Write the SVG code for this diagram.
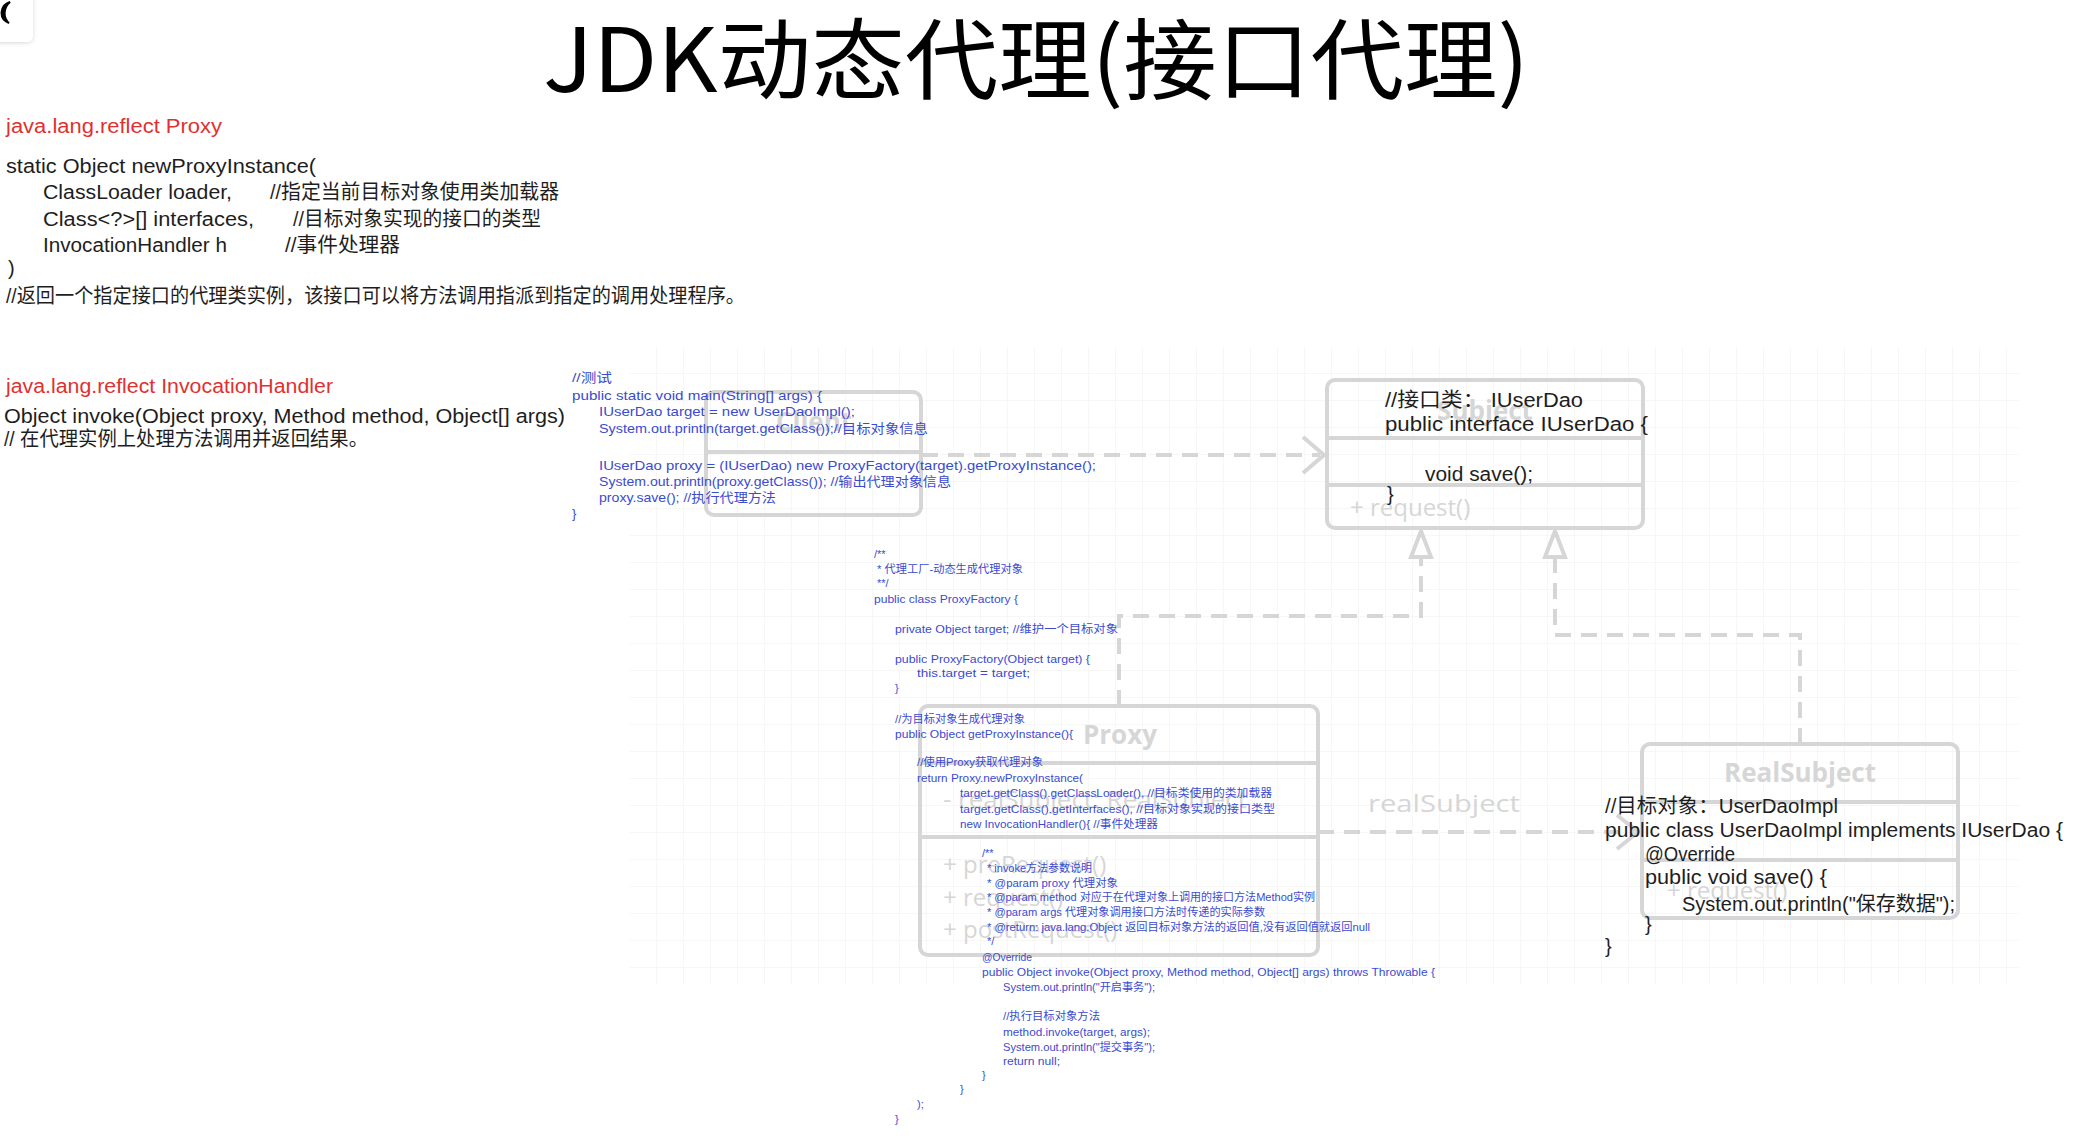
<svg xmlns="http://www.w3.org/2000/svg" width="2076" height="1143" viewBox="0 0 2076 1143">
<defs>
<pattern id="grid" x="630" y="347" width="27" height="27" patternUnits="userSpaceOnUse">
<path d="M27,0 V27 M0,27 H27" fill="none" stroke="#efefef" stroke-width="1"/>
</pattern>
<filter id="shadow" x="-50%" y="-50%" width="200%" height="200%">
<feDropShadow dx="0" dy="1" stdDeviation="2" flood-color="#000000" flood-opacity="0.15"/>
</filter>
<style>
.t{font-family:"Liberation Sans","Noto Sans CJK SC",sans-serif;font-size:20px;fill:#1e1e1e}
.r{fill:#e03131}
.b{font-family:"Liberation Sans","Noto Sans CJK SC",sans-serif;fill:#3b4bd0}
.b13{font-size:13px}
.b11{font-size:11px}
.box{fill:none;stroke:#d6d6d6;stroke-width:4}
.div{stroke:#d6d6d6;stroke-width:4}
.gh{font-family:"Open Sans","Liberation Sans",sans-serif;fill:#d6d6d6;font-size:24px}
.ghb{font-family:"Open Sans","Liberation Sans",sans-serif;fill:#d6d6d6;font-size:26px;font-weight:bold}
.dash{fill:none;stroke:#d6d6d6;stroke-width:4;stroke-dasharray:16 10}
.head{fill:none;stroke:#d6d6d6;stroke-width:4;stroke-linejoin:miter}
.tri{fill:#ffffff;stroke:#d6d6d6;stroke-width:4;stroke-linejoin:miter}
</style>
</defs>
<rect width="2076" height="1143" fill="#ffffff"/>
<rect x="630" y="347" width="1389" height="638" fill="url(#grid)"/>

<g id="corner-card">
<rect x="-10" y="-10" width="43" height="52" rx="6" fill="#ffffff" filter="url(#shadow)"/>
<path d="M10,2 C0,5 -2,19 9,23 C3,18 3,8 10,2 Z" fill="#000000" stroke="#000000" stroke-width="2"/>
</g>

<g id="title">
<text x="543" y="92" font-family="'Noto Sans CJK SC',sans-serif" font-size="88" fill="#000000" textLength="986" lengthAdjust="spacingAndGlyphs">JDK动态代理(接口代理)</text>
</g>

<g id="proxy-api">
<text class="t r" x="6" y="133" textLength="216" lengthAdjust="spacingAndGlyphs">java.lang.reflect Proxy</text>
<text class="t" x="6" y="173" textLength="310" lengthAdjust="spacingAndGlyphs">static Object newProxyInstance(</text>
<text class="t" x="43" y="199" textLength="189" lengthAdjust="spacingAndGlyphs">ClassLoader loader,</text>
<text class="t" x="270" y="199" textLength="289" lengthAdjust="spacingAndGlyphs">//指定当前目标对象使用类加载器</text>
<text class="t" x="43" y="226" textLength="211" lengthAdjust="spacingAndGlyphs">Class&lt;?&gt;[] interfaces,</text>
<text class="t" x="293" y="226" textLength="248" lengthAdjust="spacingAndGlyphs">//目标对象实现的接口的类型</text>
<text class="t" x="43" y="252" textLength="184" lengthAdjust="spacingAndGlyphs">InvocationHandler h</text>
<text class="t" x="285" y="252" textLength="115" lengthAdjust="spacingAndGlyphs">//事件处理器</text>
<text class="t" x="8" y="275">)</text>
<text class="t" x="6" y="303" textLength="739" lengthAdjust="spacingAndGlyphs">//返回一个指定接口的代理类实例，该接口可以将方法调用指派到指定的调用处理程序。</text>
</g>

<g id="invocationhandler-api">
<text class="t r" x="6" y="393" textLength="327" lengthAdjust="spacingAndGlyphs">java.lang.reflect InvocationHandler</text>
<text class="t" x="4" y="423" textLength="561" lengthAdjust="spacingAndGlyphs">Object invoke(Object proxy, Method method, Object[] args)</text>
<text class="t" x="4" y="446" textLength="364" lengthAdjust="spacingAndGlyphs">// 在代理实例上处理方法调用并返回结果。</text>
</g>

<g id="connectors">
<path class="dash" d="M922,455 H1320"/>
<path class="head" d="M1303,437 L1324,455 L1303,473"/>
<path class="dash" d="M1119,706 V616 H1421 V557"/>
<path class="tri" d="M1421,531 L1431,557 L1411,557 Z"/>
<path class="dash" d="M1800,744 V635 H1555 V557"/>
<path class="tri" d="M1555,531 L1565,557 L1545,557 Z"/>
<path class="dash" d="M1318,832 H1634"/>
<path class="head" d="M1617,815 L1638,832 L1617,849"/>
<text class="gh" x="1368" y="812" font-size="29" textLength="152" lengthAdjust="spacingAndGlyphs">realSubject</text>
</g>

<g id="client">
<rect class="box" x="706" y="392" width="215" height="123" rx="8"/>
<line class="div" x1="706" y1="452" x2="921" y2="452"/>
<text class="ghb" x="814" y="431" text-anchor="middle">Client</text>
</g>

<g id="subject">
<rect class="box" x="1327" y="380" width="316" height="148" rx="8"/>
<line class="div" x1="1327" y1="438" x2="1643" y2="438"/>
<line class="div" x1="1327" y1="485" x2="1643" y2="485"/>
<text class="ghb" x="1485" y="420" text-anchor="middle">Subject</text>
<text class="gh" x="1350" y="516">+ request()</text>
</g>

<g id="proxy">
<rect class="box" x="920" y="706" width="398" height="249" rx="8"/>
<line class="div" x1="920" y1="763" x2="1318" y2="763"/>
<line class="div" x1="920" y1="837" x2="1318" y2="837"/>
<text class="ghb" x="1120" y="744" text-anchor="middle">Proxy</text>
<text class="gh" x="943" y="808" textLength="304" lengthAdjust="spacingAndGlyphs">- realSubject: RealSubject</text>
<text class="gh" x="943" y="873">+ preRequest()</text>
<text class="gh" x="943" y="906">+ request()</text>
<text class="gh" x="943" y="938">+ postRequest()</text>
</g>

<g id="realsubject">
<rect class="box" x="1642" y="744" width="316" height="174" rx="8"/>
<line class="div" x1="1642" y1="802" x2="1958" y2="802"/>
<line class="div" x1="1642" y1="860" x2="1958" y2="860"/>
<text class="ghb" x="1800" y="782" text-anchor="middle">RealSubject</text>
<text class="gh" x="1667" y="899">+ request()</text>
</g>

<g id="interface-code">
<text class="t" x="1385" y="407" textLength="198" lengthAdjust="spacingAndGlyphs">//接口类：  IUserDao</text>
<text class="t" x="1385" y="431" textLength="263" lengthAdjust="spacingAndGlyphs">public interface IUserDao {</text>
<text class="t" x="1425" y="481" textLength="108" lengthAdjust="spacingAndGlyphs">void save();</text>
<text class="t" x="1387" y="501">}</text>
</g>

<g id="impl-code">
<text class="t" x="1605" y="813" textLength="233" lengthAdjust="spacingAndGlyphs">//目标对象：UserDaoImpl</text>
<text class="t" x="1605" y="837" textLength="458" lengthAdjust="spacingAndGlyphs">public class UserDaoImpl implements IUserDao {</text>
<text class="t" x="1645" y="861" textLength="90" lengthAdjust="spacingAndGlyphs">@Override</text>
<text class="t" x="1645" y="884" textLength="182" lengthAdjust="spacingAndGlyphs">public void save() {</text>
<text class="t" x="1682" y="911" textLength="273" lengthAdjust="spacingAndGlyphs">System.out.println("保存数据");</text>
<text class="t" x="1645" y="931">}</text>
<text class="t" x="1605" y="953">}</text>
</g>

<g id="test-code" class="b b13">
<text x="572" y="382" textLength="40" lengthAdjust="spacingAndGlyphs">//测试</text>
<text x="572" y="400" textLength="250" lengthAdjust="spacingAndGlyphs">public static void main(String[] args) {</text>
<text x="599" y="416" textLength="256" lengthAdjust="spacingAndGlyphs">IUserDao target = new UserDaoImpl();</text>
<text x="599" y="433" textLength="329" lengthAdjust="spacingAndGlyphs">System.out.println(target.getClass());//目标对象信息</text>
<text x="599" y="470" textLength="497" lengthAdjust="spacingAndGlyphs">IUserDao proxy = (IUserDao) new ProxyFactory(target).getProxyInstance();</text>
<text x="599" y="486" textLength="352" lengthAdjust="spacingAndGlyphs">System.out.println(proxy.getClass()); //输出代理对象信息</text>
<text x="599" y="502" textLength="177" lengthAdjust="spacingAndGlyphs">proxy.save(); //执行代理方法</text>
<text x="572" y="518">}</text>
</g>

<g id="factory-code" class="b b11">
<text x="874" y="558">/**</text>
<text x="877" y="573" textLength="146" lengthAdjust="spacingAndGlyphs">* 代理工厂-动态生成代理对象</text>
<text x="877" y="587">**/</text>
<text x="874" y="603" textLength="144" lengthAdjust="spacingAndGlyphs">public class ProxyFactory {</text>
<text x="895" y="633" textLength="223" lengthAdjust="spacingAndGlyphs">private Object target; //维护一个目标对象</text>
<text x="895" y="663" textLength="195" lengthAdjust="spacingAndGlyphs">public ProxyFactory(Object target) {</text>
<text x="917" y="677" textLength="113" lengthAdjust="spacingAndGlyphs">this.target = target;</text>
<text x="895" y="692">}</text>
<text x="895" y="723" textLength="130" lengthAdjust="spacingAndGlyphs">//为目标对象生成代理对象</text>
<text x="895" y="738" textLength="178" lengthAdjust="spacingAndGlyphs">public Object getProxyInstance(){</text>
<text x="917" y="766" textLength="126" lengthAdjust="spacingAndGlyphs">//使用Proxy获取代理对象</text>
<text x="917" y="782" textLength="166" lengthAdjust="spacingAndGlyphs">return Proxy.newProxyInstance(</text>
<text x="960" y="797" textLength="312" lengthAdjust="spacingAndGlyphs">target.getClass().getClassLoader(), //目标类使用的类加载器</text>
<text x="960" y="813" textLength="315" lengthAdjust="spacingAndGlyphs">target.getClass().getInterfaces(), //目标对象实现的接口类型</text>
<text x="960" y="828" textLength="198" lengthAdjust="spacingAndGlyphs">new InvocationHandler(){ //事件处理器</text>
<text x="982" y="857">/**</text>
<text x="987" y="872" textLength="105" lengthAdjust="spacingAndGlyphs">* invoke方法参数说明</text>
<text x="987" y="887" textLength="131" lengthAdjust="spacingAndGlyphs">* @param proxy 代理对象</text>
<text x="987" y="901" textLength="328" lengthAdjust="spacingAndGlyphs">* @param method 对应于在代理对象上调用的接口方法Method实例</text>
<text x="987" y="916" textLength="278" lengthAdjust="spacingAndGlyphs">* @param args 代理对象调用接口方法时传递的实际参数</text>
<text x="987" y="931" textLength="383" lengthAdjust="spacingAndGlyphs">* @return: java.lang.Object 返回目标对象方法的返回值,没有返回值就返回null</text>
<text x="987" y="945">*/</text>
<text x="982" y="961" textLength="50" lengthAdjust="spacingAndGlyphs">@Override</text>
<text x="982" y="976" textLength="453" lengthAdjust="spacingAndGlyphs">public Object invoke(Object proxy, Method method, Object[] args) throws Throwable {</text>
<text x="1003" y="991" textLength="152" lengthAdjust="spacingAndGlyphs">System.out.println("开启事务");</text>
<text x="1003" y="1020" textLength="97" lengthAdjust="spacingAndGlyphs">//执行目标对象方法</text>
<text x="1003" y="1036" textLength="147" lengthAdjust="spacingAndGlyphs">method.invoke(target, args);</text>
<text x="1003" y="1051" textLength="152" lengthAdjust="spacingAndGlyphs">System.out.println("提交事务");</text>
<text x="1003" y="1065" textLength="57" lengthAdjust="spacingAndGlyphs">return null;</text>
<text x="982" y="1079">}</text>
<text x="960" y="1093">}</text>
<text x="917" y="1108">);</text>
<text x="895" y="1123">}</text>
</g>
</svg>
